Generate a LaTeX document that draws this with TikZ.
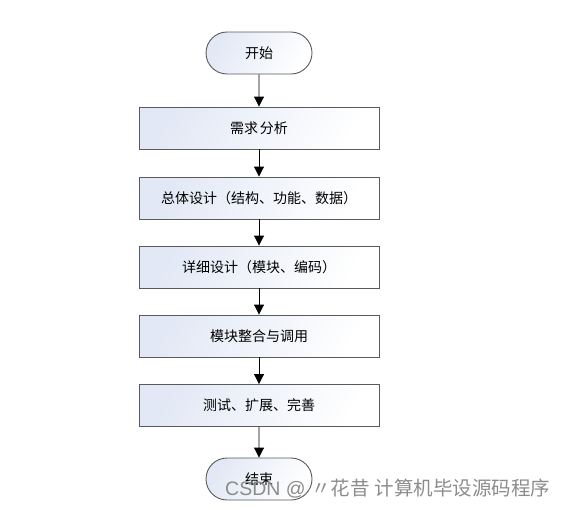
\documentclass[tikz,border=0pt]{standalone}
\usepackage{fontspec}
\setmainfont{Noto Sans CJK SC}
\newfontfamily\wmfont{Liberation Sans}
\usetikzlibrary{arrows.meta,shapes.misc}
\definecolor{boxline}{HTML}{5A5A5A}
\definecolor{boxtop}{HTML}{E2E8F5}
\tikzset{
  x=1pt,y=-1pt,
  every node/.style={font=\fontsize{14}{16}\selectfont, text=black},
  procbox/.style={rectangle, draw=boxline, line width=0.9pt, minimum width=240pt, minimum height=42pt,
    inner sep=0pt, shading=axis, left color=boxtop, right color=white, shading angle=60},
  termbox/.style={rounded rectangle, draw=boxline, line width=0.9pt, minimum width=106pt, minimum height=42pt,
    inner sep=0pt, shading=axis, left color=boxtop, right color=white, shading angle=60},
  flow/.style={draw=black, line width=0.9pt, -{Triangle[width=10pt,length=10pt]}}
}
\begin{document}
\begin{tikzpicture}
\useasboundingbox (0,0) rectangle (564,509);
\node[termbox] (start) at (259,53) {开始};
\node[procbox] (s1) at (259,128) {需求\hspace{2pt}分析};
\node[procbox] (s2) at (259,198) {总体设计（结构、功能、数据）};
\node[procbox] (s3) at (259,267) {详细设计（模块、编码）};
\node[procbox] (s4) at (259,336) {模块整合与调用};
\node[procbox] (s5) at (259,405.5) {测试、扩展、完善};
\node[termbox] (end) at (259,479) {结束};
\draw[flow] (start) -- (s1);
\draw[flow] (s1) -- (s2);
\draw[flow] (s2) -- (s3);
\draw[flow] (s3) -- (s4);
\draw[flow] (s4) -- (s5);
\draw[flow] (s5) -- (end);
\node[anchor=west, inner sep=0pt, text=black!45, font=\fontsize{19.5}{22}\selectfont] (wm) at (225,489)
  {{\wmfont CSDN @ }〃花昔\hspace{5pt}计算机毕设源码程序};
\end{tikzpicture}
\end{document}
